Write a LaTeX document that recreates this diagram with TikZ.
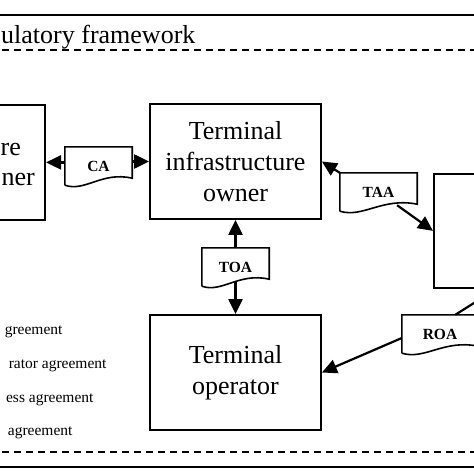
\documentclass[tikz,border=0pt]{standalone}
\usepackage{fontspec}
\setmainfont{Liberation Serif}
\usetikzlibrary{calc,arrows.meta}

\begin{document}
\begin{tikzpicture}[x=1pt,y=-1pt]
% Styles
\tikzset{
    block/.style={draw,line width=1.8pt,minimum width=171pt,minimum height=115pt,inner sep=0pt,align=center,font=\fontsize{26}{31}\selectfont},
    doc/.style={minimum width=67pt,minimum height=38pt,inner sep=0pt,font=\fontsize{15.5}{18}\selectfont\bfseries},
    link/.style={line width=2.2pt,-{Triangle[length=15pt,width=14pt]}},
    sep/.style={line width=1.2pt,dash pattern=on 7pt off 5pt},
    legend/.style={anchor=base east,font=\fontsize{15.5}{18}\selectfont}
}
\clip (0,0) rectangle (474,474);
% Framework
\draw[line width=1.4pt] (-10,15) -- (484,15);
\draw[sep] (-10,50) -- (484,50);
\draw[sep] (-10,452) -- (484,452);
\draw[line width=1.4pt] (-10,467) -- (484,467);
\node[anchor=base west,inner sep=0pt,font=\fontsize{26}{31}\selectfont] (title) at (1,43) {ulatory framework};
% Actors
\node[block,minimum width=130pt,anchor=north east] (io) at (46,104) {};
\node[anchor=base east,inner sep=0pt,font=\fontsize{26}{31}\selectfont] (io1) at (21,155) {re};
\node[anchor=base east,inner sep=0pt,font=\fontsize{26}{31}\selectfont] (io2) at (35,185) {ner};
\node[block] (tiown) at (235.5,161.5) {Terminal\\infrastructure\\owner};
\node[block] (terop) at (235.5,372.5) {Terminal\\operator};
\node[block,minimum width=100pt,minimum height=114pt,anchor=north west] (rop) at (433,173) {};
% Agreements
\node[doc] (ca) at (98.5,166) {CA};
\node[doc] (toa) at (235.5,267) {TOA};
\node[doc,minimum width=77pt] (taa) at (378.5,192) {TAA};
\node[doc,minimum width=76pt] (roa) at (440,334) {ROA};
\foreach \d in {ca,toa,taa,roa}{
    \draw[line width=1.6pt] (\d.south west) -- (\d.north west) -- (\d.north east) -- ($(\d.south east)+(0,-7)$)
        .. controls ($(\d.south west)!0.55!(\d.south east)+(0,-14)$) and ($(\d.south west)!0.3!(\d.south east)+(0,7)$) .. (\d.south west);
}
% Connection
\coordinate (roaout) at (493,291);
\draw[link] (ca.west |- io.east) -- (io.east);
\draw[link] (ca.east |- tiown.west) -- (tiown.west);
\draw[link] (toa.north) -- (tiown.south);
\draw[link] ($(toa.south)+(0,-4)$) -- (terop.north);
\draw[link] (taa.north west) -- (tiown.east);
\draw[link] ($(taa.south west)!0.74!(taa.south east)+(0,-6)$) -- (rop.west);
\draw[link] ($(roa.west)+(0,4)$) -- (terop.east);
\draw[line width=2.2pt] ($(roa.north west)!0.7!(roa.north east)$) -- (roaout);
% Legend
\node[legend] (lg1) at (66,334) {greement};
\node[legend] (lg2) at (110,368) {rator agreement};
\node[legend] (lg3) at (97,402) {ess agreement};
\node[legend] (lg4) at (76,435) {agreement};
\end{tikzpicture}
\end{document}
